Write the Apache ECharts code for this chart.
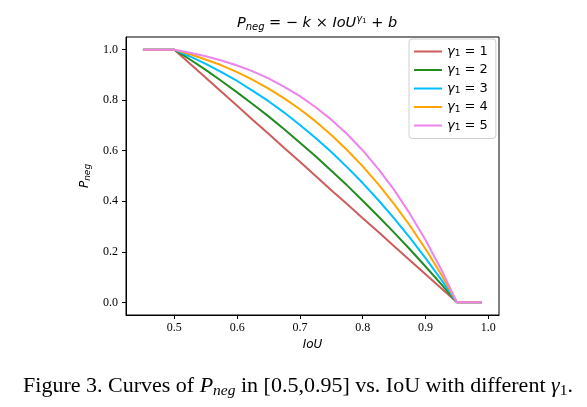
<!DOCTYPE html>
<html>
<head>
<meta charset="utf-8">
<script src="https://cdn.jsdelivr.net/npm/echarts@6/dist/echarts.min.js"></script>
<style>html,body{margin:0;padding:0;background:#fff}#c{width:587px;height:407px}</style>
</head>
<body>
<div id="c"></div>
<script>
const iou = [0.45, 0.5, 0.525, 0.55, 0.575, 0.6, 0.625, 0.65, 0.675, 0.7, 0.725, 0.75, 0.775, 0.8, 0.825, 0.85, 0.875, 0.9, 0.925, 0.95, 0.99];
const g1 = [1, 1, 0.944, 0.889, 0.833, 0.778, 0.722, 0.667, 0.611, 0.556, 0.5, 0.444, 0.389, 0.333, 0.278, 0.222, 0.167, 0.111, 0.056, 0, 0];
const g2 = [1, 1, 0.961, 0.920, 0.876, 0.831, 0.784, 0.736, 0.685, 0.632, 0.578, 0.521, 0.463, 0.402, 0.340, 0.276, 0.210, 0.142, 0.072, 0, 0];
const g3 = [1, 1, 0.973, 0.944, 0.911, 0.876, 0.837, 0.796, 0.751, 0.702, 0.650, 0.595, 0.535, 0.472, 0.404, 0.332, 0.256, 0.175, 0.090, 0, 0];
const g4 = [1, 1, 0.982, 0.961, 0.938, 0.911, 0.880, 0.846, 0.807, 0.764, 0.716, 0.662, 0.603, 0.538, 0.467, 0.389, 0.304, 0.211, 0.110, 0, 0];
const g5 = [1, 1, 0.988, 0.974, 0.957, 0.937, 0.914, 0.886, 0.853, 0.816, 0.772, 0.723, 0.666, 0.601, 0.527, 0.445, 0.351, 0.247, 0.130, 0, 0];
const seriesNames = ['γ1 = 1', 'γ1 = 2', 'γ1 = 3', 'γ1 = 4', 'γ1 = 5'];
const gammaLabels = ['1', '2', '3', '4', '5'];
const colors = ['#cd5c5c', '#228b22', '#00bfff', '#ffa500', '#ee82ee'];
const xTicks = [0.5, 0.6, 0.7, 0.8, 0.9, 1.0];
const yTicks = [0.0, 0.2, 0.4, 0.6, 0.8, 1.0];
const allY = [g1, g2, g3, g4, g5];

const sans = 'DejaVu Sans';
const serif = 'Liberation Serif';

const chart = echarts.init(document.getElementById('c'), null, {renderer: 'canvas'});
chart.setOption({
  animation: false,
  backgroundColor: '#fff',
  color: colors,
  title: [{
    text: '{i|P}{sub|neg}{n| = − }{i|k}{n| × }{i|IoU}{sup|γ}{ss|1}{n| + }{i|b}',
    left: 312, top: 9, textAlign: 'center',
    textStyle: {
      fontWeight: 'normal',
      rich: {
        i: {fontFamily: sans, fontStyle: 'italic', fontWeight: 'normal', fontSize: 14.5, color: '#000'},
        n: {fontFamily: sans, fontWeight: 'normal', fontSize: 14.5, color: '#000'},
        sub: {fontFamily: sans, fontStyle: 'italic', fontWeight: 'normal', fontSize: 10, color: '#000', padding: [8, 0, 0, 0]},
        sup: {fontFamily: sans, fontStyle: 'italic', fontWeight: 'normal', fontSize: 10, color: '#000', padding: [0, 0, 8, 0]},
        ss: {fontFamily: sans, fontWeight: 'normal', fontSize: 7, color: '#000', padding: [0, 0, 4, 0]}
      }
    }
  }, {
    text: '{r|Figure 3. Curves of }{i|P}{sub|neg}{r| in [0.5,0.95] vs. IoU with different }{g|γ}{s1|1}{r|.}',
    left: 293, top: 369, textAlign: 'center',
    textStyle: {
      fontWeight: 'normal',
      rich: {
        r: {fontFamily: serif, fontWeight: 'normal', fontSize: 22, color: '#000'},
        i: {fontFamily: serif, fontStyle: 'italic', fontWeight: 'normal', fontSize: 22, color: '#000'},
        g: {fontFamily: serif, fontStyle: 'italic', fontWeight: 'normal', fontSize: 22, color: '#000'},
        sub: {fontFamily: serif, fontStyle: 'italic', fontWeight: 'normal', fontSize: 15.5, color: '#000', padding: [9, 0, 0, 0]},
        s1: {fontFamily: serif, fontWeight: 'normal', fontSize: 15.5, color: '#000', padding: [9, 0, 0, 0]}
      }
    }
  }],
  legend: {
    orient: 'vertical',
    left: 409, top: 39,
    itemWidth: 28, itemHeight: 2,
    itemGap: 5,
    icon: 'rect',
    padding: [6, 8, 6, 5],
    borderColor: '#d0d0d0', borderWidth: 1, borderRadius: 3,
    backgroundColor: 'rgba(255,255,255,0.8)',
    data: seriesNames,
    formatter: function (name) {
      const k = seriesNames.indexOf(name);
      return '{g|γ}{s|1}{n| = ' + gammaLabels[k] + '}';
    },
    textStyle: {
      rich: {
        g: {fontFamily: sans, fontStyle: 'italic', fontSize: 13, color: '#000'},
        s: {fontFamily: sans, fontSize: 9, color: '#000', padding: [5, 0, 0, 0]},
        n: {fontFamily: sans, fontSize: 13, color: '#000'}
      }
    }
  },
  grid: {left: 126, right: 88, top: 37, bottom: 92, show: true, borderColor: '#000', borderWidth: 1, containLabel: false},
  xAxis: {
    type: 'value', min: 0.423, max: 1.017,
    name: 'IoU', nameLocation: 'middle', nameGap: 23,
    nameTextStyle: {fontFamily: sans, fontStyle: 'italic', fontSize: 12, color: '#000'},
    axisLine: {show: true, onZero: false, lineStyle: {color: '#000', width: 1}},
    axisTick: {show: true, inside: false, length: 4, lineStyle: {color: '#000'}, customValues: xTicks},
    axisLabel: {customValues: xTicks, fontFamily: serif, fontSize: 12, color: '#000', margin: 7,
      formatter: function (v) { return v.toFixed(1); }},
    splitLine: {show: false}
  },
  yAxis: {
    type: 'value', min: -0.05, max: 1.05,
    name: '{i|P}{s|neg}', nameLocation: 'middle', nameGap: 32, nameRotate: 90,
    nameTextStyle: {
      rich: {
        i: {fontFamily: sans, fontStyle: 'italic', fontSize: 12, color: '#000'},
        s: {fontFamily: sans, fontStyle: 'italic', fontSize: 9, color: '#000', padding: [6, 0, 0, 0]}
      }
    },
    axisLine: {show: true, onZero: false, lineStyle: {color: '#000', width: 1}},
    axisTick: {show: true, inside: false, length: 4, lineStyle: {color: '#000'}, customValues: yTicks},
    axisLabel: {customValues: yTicks, fontFamily: serif, fontSize: 12, color: '#000', margin: 8,
      formatter: function (v) { return v.toFixed(1); }},
    splitLine: {show: false}
  },
  series: allY.map(function (ys, k) {
    return {
      name: seriesNames[k],
      type: 'line',
      showSymbol: false,
      symbol: 'none',
      smooth: false,
      lineStyle: {width: 2, color: colors[k]},
      itemStyle: {color: colors[k]},
      data: iou.map(function (x, j) { return [x, ys[j]]; })
    };
  })
});
</script>
</body>
</html>
